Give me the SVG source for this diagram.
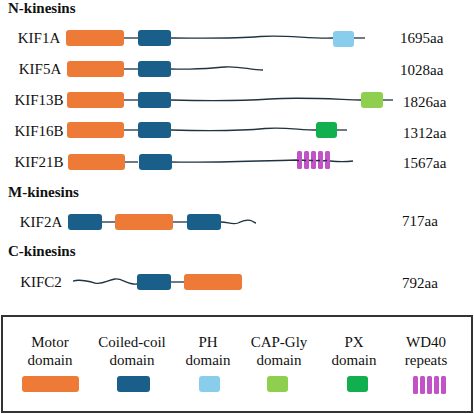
<svg xmlns="http://www.w3.org/2000/svg" width="474" height="414" viewBox="0 0 474 414">
<style>
text{font-family:'Liberation Serif','DejaVu Serif',serif;font-size:15px;fill:#111}
.h{font-weight:bold}
.lab{text-anchor:middle}
.mo{fill:#EE7A38}
.cc{fill:#1A5E8A}
.ph{fill:#89CDEC}
.cg{fill:#8FCF4F}
.px{fill:#12AF4F}
.wd{fill:#C152C8}
.ln{fill:none;stroke:#1F3340;stroke-width:1.3}
</style>
<defs>
<g id="wd40">
<rect class="wd" x="0" y="0" width="5" height="18" rx="1.5"/>
<rect class="wd" x="7" y="0" width="5" height="18" rx="1.5"/>
<rect class="wd" x="14" y="0" width="5" height="18" rx="1.5"/>
<rect class="wd" x="21" y="0" width="5" height="18" rx="1.5"/>
<rect class="wd" x="28" y="0" width="5" height="18" rx="1.5"/>
</g>
</defs>
<rect width="474" height="414" fill="#fff"/>
<g font-family="Liberation Serif, serif">
<text class="h" x="8" y="13">N-kinesins</text>
<text class="h" x="8" y="197">M-kinesins</text>
<text class="h" x="8" y="256">C-kinesins</text>
</g>
<g id="connectors">
<path class="ln" d="M124,38 H138"/>
<path class="ln" d="M171,38 C200,38 230,39 260,36.5 C285,34.5 310,39 333,38"/>
<path class="ln" d="M354,38 H365"/>
<path class="ln" d="M124,69 H138"/>
<path class="ln" d="M171,69 C195,70 210,68 225,67 C240,66 250,70 263,70"/>
<path class="ln" d="M124,100 H138"/>
<path class="ln" d="M171,100 C210,101 240,101 270,99 C300,97 330,99 361,100"/>
<path class="ln" d="M383,100 H393"/>
<path class="ln" d="M124,130 H138"/>
<path class="ln" d="M171,130 C210,131 240,131 265,128.5 C285,127 300,130 316,130"/>
<path class="ln" d="M337,130 H347"/>
<path class="ln" d="M124,162 H138"/>
<path class="ln" d="M171,162 C210,163 250,161 297,160 L330,161 C340,162 345,162 353,161"/>
<path class="ln" d="M102,222 H115"/>
<path class="ln" d="M173,222 H187"/>
<path class="ln" d="M221,222 C228,222 232,225 238,223 C244,220 248,219 252,221 C254,222 255,223 256,223"/>
<path class="ln" d="M73,281 C80,279 88,281 95,283 C102,285 108,280 115,279 C122,278 128,285 137,284"/>
<path class="ln" d="M171,282 H184"/>
</g>
<g id="KIF1A">
<text class="lab" x="39" y="43">KIF1A</text>
<rect class="mo" x="66" y="30" width="58" height="16" rx="3"/>
<rect class="cc" x="138" y="30" width="33" height="16" rx="3"/>
<rect class="ph" x="333" y="31" width="21" height="16" rx="3"/>
<text x="400" y="43">1695aa</text>
</g>
<g id="KIF5A">
<text class="lab" x="40" y="74">KIF5A</text>
<rect class="mo" x="67" y="61" width="57" height="16" rx="3"/>
<rect class="cc" x="138" y="61" width="33" height="16" rx="3"/>
<text x="400" y="75">1028aa</text>
</g>
<g id="KIF13B">
<text class="lab" x="39" y="105">KIF13B</text>
<rect class="mo" x="67" y="92" width="57" height="16" rx="3"/>
<rect class="cc" x="138" y="92" width="33" height="16" rx="3"/>
<rect class="cg" x="361" y="92" width="22" height="16" rx="3"/>
<text x="403" y="107">1826aa</text>
</g>
<g id="KIF16B">
<text class="lab" x="39" y="136">KIF16B</text>
<rect class="mo" x="67" y="122" width="57" height="16" rx="3"/>
<rect class="cc" x="138" y="122" width="33" height="16" rx="3"/>
<rect class="px" x="316" y="122" width="21" height="16" rx="3"/>
<text x="403" y="138">1312aa</text>
</g>
<g id="KIF21B">
<text class="lab" x="39" y="167">KIF21B</text>
<rect class="mo" x="68" y="154" width="57" height="16" rx="3"/>
<rect class="cc" x="139" y="154" width="33" height="16" rx="3"/>
<use href="#wd40" x="297" y="151"/>
<path class="ln" d="M297,160.5 H330" stroke-dasharray="2,5"/>
<text x="403" y="168">1567aa</text>
</g>
<g id="KIF2A">
<text class="lab" x="41" y="227">KIF2A</text>
<rect class="cc" x="68" y="214" width="34" height="16" rx="3"/>
<rect class="mo" x="115" y="214" width="58" height="16" rx="3"/>
<rect class="cc" x="187" y="214" width="34" height="16" rx="3"/>
<text x="402" y="226">717aa</text>
</g>
<g id="KIFC2">
<text class="lab" x="41" y="287">KIFC2</text>
<rect class="cc" x="137" y="274" width="34" height="16" rx="3"/>
<rect class="mo" x="184" y="274" width="58" height="16" rx="3"/>
<text x="402" y="288">792aa</text>
</g>
<g id="legend">
<rect x="2" y="316" width="470" height="96" fill="none" stroke="#333" stroke-width="2"/>
<text class="lab" x="50" y="347">Motor</text>
<text class="lab" x="50" y="365">domain</text>
<rect class="mo" x="22" y="376" width="57" height="16" rx="3"/>
<text class="lab" x="132" y="347">Coiled-coil</text>
<text class="lab" x="132" y="365">domain</text>
<rect class="cc" x="117" y="376" width="33" height="16" rx="3"/>
<text class="lab" x="208" y="347">PH</text>
<text class="lab" x="208" y="365">domain</text>
<rect class="ph" x="199" y="376" width="21" height="16" rx="3"/>
<text class="lab" x="279" y="347">CAP-Gly</text>
<text class="lab" x="279" y="365">domain</text>
<rect class="cg" x="267" y="376" width="21" height="16" rx="3"/>
<text class="lab" x="354" y="347">PX</text>
<text class="lab" x="354" y="365">domain</text>
<rect class="px" x="347" y="376" width="21" height="16" rx="3"/>
<text class="lab" x="426" y="347">WD40</text>
<text class="lab" x="426" y="365">repeats</text>
<use href="#wd40" x="413" y="376"/>
</g>
</svg>
